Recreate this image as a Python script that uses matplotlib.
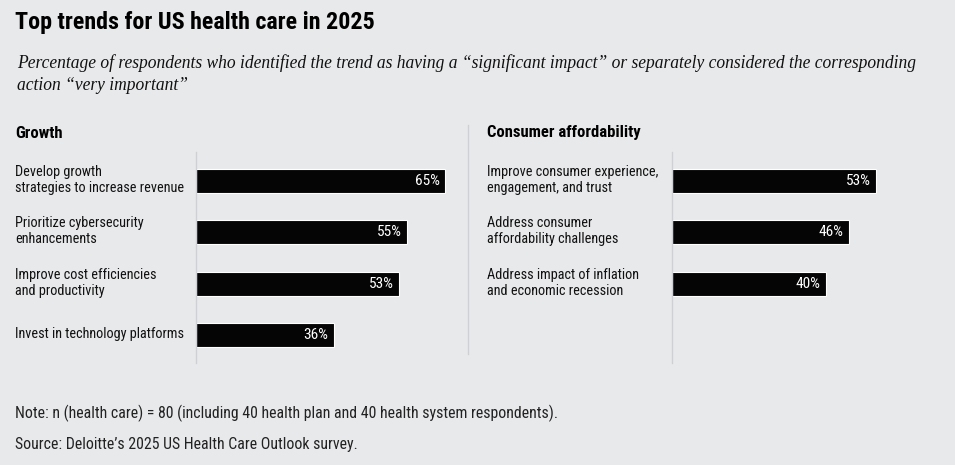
import matplotlib
matplotlib.use("Agg")
import matplotlib.pyplot as plt
from matplotlib import font_manager

# ---- data ----
growth_labels = ["Develop growth\nstrategies to increase revenue",
                 "Prioritize cybersecurity\nenhancements",
                 "Improve cost efficiencies\nand productivity",
                 "Invest in technology platforms"]
growth_values = [65, 55, 53, 36]

afford_labels = ["Improve consumer experience,\nengagement, and trust",
                 "Address consumer\naffordability challenges",
                 "Address impact of inflation\nand economic recession"]
afford_values = [53, 46, 40]

title = "Top trends for US health care in 2025"
subtitle_l1 = ("Percentage of respondents who identified the trend as having a \u201csignificant impact\u201d "
               "or separately considered the corresponding")
subtitle_l2 = "action \u201cvery important\u201d"
note = "Note: n (health care) = 80 (including 40 health plan and 40 health system respondents)."
source = "Source: Deloitte\u2019s 2025 US Health Care Outlook survey."

# ---- style ----
BG = "#e8e9eb"
W, H = 955, 465

available = {f.name for f in font_manager.fontManager.ttflist}
cands = ["Liberation Sans Narrow", "Roboto Condensed", "DejaVu Sans Condensed",
         "Open Sans Condensed", "Roboto", "Inter", "DejaVu Sans"]
NARROW = next(c for c in cands if c in available)
SANS = [NARROW, "DejaVu Sans"]
SERIF = ["Liberation Serif", "DejaVu Serif"]

fig = plt.figure(figsize=(W / 100, H / 100), dpi=100, facecolor=BG)
renderer = fig.canvas.get_renderer()


def fx(px):
    return px / W


def fy(py):
    return 1 - py / H


def fit(text, target_px, **kw):
    t = fig.text(0, 0, text, fontsize=10, **kw)
    w = t.get_window_extent(renderer=renderer).width
    t.remove()
    return 10 * target_px / w


TITLE_FS = fit(title, 360, family=SANS, weight="heavy")
SUB_FS = fit(subtitle_l1, 905, family=SERIF, style="italic")
HEAD_FS = fit("Consumer affordability", 153, family=SANS, weight="bold")
LAB_FS = fit("strategies to increase revenue", 168, family=SANS)
PCT_FS = fit("65%", 23, family=SANS) * 1.08
NOTE_FS = fit(note, 541, family=SANS)

fig.text(fx(15), fy(22), title, family=SANS, weight="heavy", fontsize=TITLE_FS,
         va="center", ha="left", color="black")
fig.text(fx(17), fy(63), subtitle_l1, family=SERIF, style="italic",
         fontsize=SUB_FS, va="center", ha="left", color="#111111")
fig.text(fx(17), fy(85), subtitle_l2, family=SERIF, style="italic",
         fontsize=SUB_FS, va="center", ha="left", color="#111111")

fig.text(fx(15), fy(133), "Growth", family=SANS, weight="bold", fontsize=HEAD_FS,
         va="center", ha="left")
fig.text(fx(487), fy(133), "Consumer affordability", family=SANS, weight="bold",
         fontsize=HEAD_FS, va="center", ha="left")

# divider line
fig.add_artist(plt.Line2D([fx(468), fx(468)], [fy(125), fy(354)],
                          color="#cfd0d3", lw=1.0))

row_px = 51.3
y_top_px, y_bot_px, c0 = 152, 363, 181
ylim = ((y_bot_px - c0) / row_px, (y_top_px - c0) / row_px)


def panel(x0_px, px_per_unit, labels, values, label_x_px):
    xmax = 70
    ax = fig.add_axes([fx(x0_px), fy(y_bot_px), fx(px_per_unit * xmax),
                       (y_bot_px - y_top_px) / H])
    ax.set_facecolor("none")
    ys = list(range(len(values)))
    ax.barh(ys, values, height=24 / row_px, color="#050505", edgecolor="white",
            linewidth=0.8)
    for y, v in zip(ys, values):
        ax.text(v - 1.4, y, f"{v}%", color="white", family=SANS, fontsize=PCT_FS,
                va="center", ha="right")
    ax.set_xlim(0, xmax)
    ax.set_ylim(*ylim)
    for s in ["top", "right", "bottom"]:
        ax.spines[s].set_visible(False)
    ax.spines["left"].set_color("#cfd0d3")
    ax.spines["left"].set_linewidth(1.0)
    ax.set_xticks([])
    ax.set_yticks([])
    for y, lab in zip(ys, labels):
        yc_px = c0 + y * row_px - 1
        fig.text(fx(label_x_px), fy(yc_px), lab, family=SANS, fontsize=LAB_FS,
                 va="center", ha="left", linespacing=1.2, color="#111111")
    return ax


panel(196, 3.83, growth_labels, growth_values, 15)
panel(672, 3.85, afford_labels, afford_values, 487)

fig.text(fx(15), fy(413), note, family=SANS, fontsize=NOTE_FS, va="center",
         ha="left", color="#222222")
fig.text(fx(15), fy(444), source, family=SANS, fontsize=NOTE_FS, va="center",
         ha="left", color="#222222")

fig.savefig("out.png", dpi=100, facecolor=BG)
